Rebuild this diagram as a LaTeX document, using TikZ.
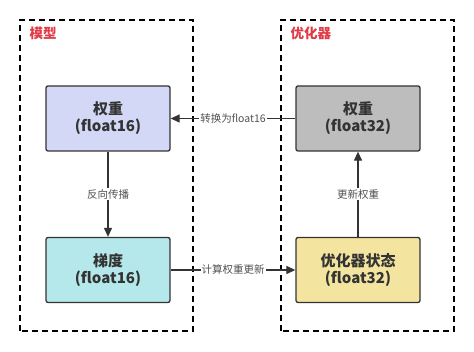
\documentclass[tikz,border=0pt]{standalone}
\usepackage{fontspec}
\setmainfont{Noto Sans CJK SC}
\usetikzlibrary{arrows.meta}
\definecolor{lineC}{HTML}{333333}
\definecolor{titleC}{HTML}{E03A45}
\definecolor{wfp}{HTML}{D3D8F7}
\definecolor{wfull}{HTML}{BDBDBD}
\definecolor{gradC}{HTML}{B5E8EA}
\definecolor{optC}{HTML}{F3E59F}

\begin{document}
\begin{tikzpicture}[x=1pt,y=1pt,
    block/.style={draw=lineC, line width=1.3pt, rounded corners=2pt, minimum width=124pt, minimum height=65pt, align=center, text=lineC, font=\bfseries\fontsize{15}{17}\selectfont},
    region/.style={draw=black, line width=1.2pt, dash pattern=on 6pt off 4pt},
    flow/.style={draw=lineC, line width=1.2pt, -{Triangle[length=9pt,width=8pt]}},
    lbl/.style={fill=white, inner sep=1pt, text=lineC!85, font=\fontsize{10.5}{12}\selectfont},
    title/.style={anchor=west, text=titleC, font=\bfseries\fontsize{13.5}{15}\selectfont}]
                    \useasboundingbox (0,0) rectangle (474,352);
                    % two dashed regions
                    \draw[region] (20,21) rectangle (193,332);
                    \draw[region] (281,21) rectangle (454,332);
                    \node[title] (model) at (26,319) {模型};
                    \node[title] (optim) at (287,319) {优化器};
                    % blocks
                    \node[block, fill=wfp] (w16) at (108,233.5) {权重\\(float16)};
                    \node[block, fill=wfull] (w32) at (358,233.5) {权重\\(float32)};
                    \node[block, fill=gradC] (g16) at (108,82) {梯度\\(float16)};
                    \node[block, fill=optC] (ost) at (358,82) {优化器状态\\(float32)};
                    % connectors
                    \draw[flow] (w32) -- node[lbl] {转换为float16} (w16);
                    \draw[flow] (w16) -- node[lbl] {反向传播} (g16);
                    \draw[flow] (g16) -- node[lbl] {计算权重更新} (ost);
                    \draw[flow] (ost) -- node[lbl] {更新权重} (w32);
                \end{tikzpicture}
\end{document}
